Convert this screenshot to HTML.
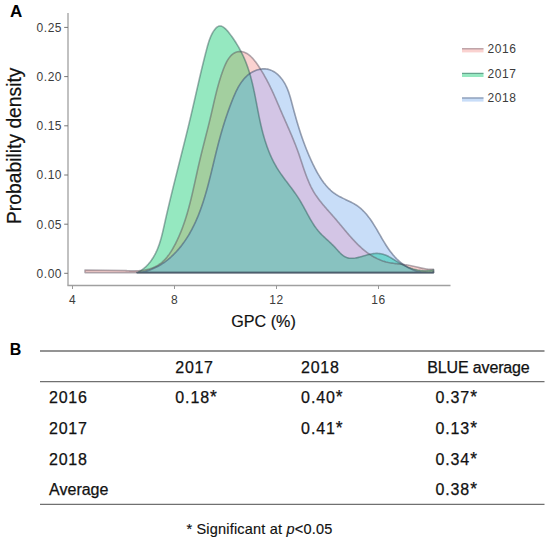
<!DOCTYPE html>
<html><head><meta charset="utf-8"><style>
html,body{margin:0;padding:0;background:#fff;width:550px;height:541px;overflow:hidden}
svg{position:absolute;left:0;top:0}
text{font-family:"Liberation Sans",sans-serif}
.tick{font-size:12px;fill:#3c3c3c;letter-spacing:0.55px}
.lab{font-size:17px;fill:#111;stroke:#111;stroke-width:0.2px}
.bold{font-size:16px;font-weight:bold;fill:#000}
.tb{font-size:16px;fill:#111;stroke:#111;stroke-width:0.25px}
.fn{font-size:14.5px;fill:#111;letter-spacing:0.2px;stroke:#111;stroke-width:0.15px}
.num{letter-spacing:0.9px}
.ast{font-size:17.5px}
.yr{letter-spacing:0.7px}
</style></head><body>
<svg width="550" height="541" viewBox="0 0 550 541">
<text x="10" y="17.2" class="bold" style="font-size:17px">A</text>
<defs><path id="pp" d="M85.00,272.60 L85.00,270.00 L125.00,270.50 L126.20,270.61 L127.39,270.71 L128.59,270.78 L129.79,270.84 L131.00,270.88 L132.20,270.91 L133.40,270.91 L134.60,270.90 L135.80,270.87 L137.00,270.81 L138.20,270.74 L139.40,270.65 L140.60,270.53 L141.79,270.40 L142.98,270.23 L144.17,270.05 L145.35,269.84 L146.53,269.60 L147.70,269.33 L148.87,269.03 L150.02,268.70 L151.17,268.33 L152.30,267.93 L153.42,267.50 L154.52,267.02 L155.61,266.50 L156.67,265.94 L157.71,265.34 L158.73,264.70 L159.72,264.02 L160.68,263.30 L161.62,262.55 L162.53,261.77 L163.42,260.96 L164.28,260.12 L165.11,259.25 L165.92,258.36 L166.70,257.45 L167.47,256.52 L168.20,255.57 L168.92,254.61 L169.62,253.63 L170.29,252.63 L170.95,251.63 L171.59,250.61 L172.21,249.58 L172.82,248.55 L173.42,247.50 L174.00,246.45 L174.57,245.39 L175.12,244.33 L175.67,243.26 L176.21,242.18 L176.74,241.10 L177.26,240.02 L177.77,238.93 L178.27,237.84 L178.77,236.74 L179.25,235.64 L179.73,234.54 L180.19,233.43 L180.65,232.32 L181.10,231.21 L181.54,230.09 L181.98,228.97 L182.40,227.85 L182.82,226.72 L183.23,225.59 L183.64,224.46 L184.03,223.32 L184.42,222.19 L184.80,221.05 L185.18,219.90 L185.55,218.76 L185.91,217.62 L186.27,216.47 L186.62,215.32 L186.97,214.17 L187.31,213.01 L187.64,211.86 L187.97,210.70 L188.29,209.55 L188.61,208.39 L188.93,207.23 L189.24,206.07 L189.54,204.90 L189.84,203.74 L190.14,202.58 L190.43,201.41 L190.72,200.24 L191.01,199.08 L191.29,197.91 L191.57,196.74 L191.85,195.57 L192.12,194.40 L192.40,193.23 L192.67,192.06 L192.93,190.89 L193.20,189.71 L193.46,188.54 L193.73,187.37 L193.99,186.20 L194.25,185.02 L194.51,183.85 L194.77,182.68 L195.02,181.50 L195.28,180.33 L195.54,179.15 L195.79,177.98 L196.05,176.81 L196.31,175.63 L196.57,174.46 L196.83,173.28 L197.08,172.11 L197.34,170.94 L197.61,169.76 L197.87,168.59 L198.13,167.42 L198.40,166.25 L198.67,165.08 L198.94,163.90 L199.21,162.73 L199.48,161.56 L199.76,160.39 L200.04,159.22 L200.32,158.06 L200.60,156.89 L200.88,155.72 L201.17,154.55 L201.46,153.38 L201.75,152.22 L202.03,151.05 L202.32,149.89 L202.62,148.72 L202.91,147.55 L203.20,146.39 L203.50,145.22 L203.79,144.06 L204.09,142.89 L204.38,141.73 L204.68,140.56 L204.97,139.40 L205.27,138.23 L205.57,137.07 L205.86,135.90 L206.16,134.74 L206.46,133.57 L206.75,132.41 L207.05,131.24 L207.34,130.08 L207.63,128.91 L207.93,127.75 L208.22,126.58 L208.51,125.42 L208.80,124.25 L209.09,123.08 L209.37,121.91 L209.66,120.75 L209.94,119.58 L210.22,118.41 L210.50,117.24 L210.78,116.07 L211.06,114.90 L211.33,113.73 L211.60,112.56 L211.87,111.39 L212.14,110.22 L212.41,109.05 L212.67,107.88 L212.94,106.70 L213.21,105.53 L213.47,104.36 L213.74,103.19 L214.01,102.02 L214.28,100.85 L214.55,99.68 L214.83,98.51 L215.10,97.34 L215.38,96.17 L215.67,95.00 L215.95,93.83 L216.25,92.67 L216.54,91.50 L216.84,90.34 L217.14,89.17 L217.45,88.01 L217.77,86.85 L218.09,85.69 L218.41,84.54 L218.74,83.38 L219.08,82.23 L219.42,81.08 L219.77,79.93 L220.13,78.78 L220.49,77.63 L220.86,76.49 L221.23,75.35 L221.62,74.21 L222.01,73.07 L222.40,71.94 L222.81,70.80 L223.22,69.68 L223.65,68.55 L224.09,67.43 L224.54,66.32 L225.02,65.22 L225.51,64.12 L226.03,63.04 L226.58,61.97 L227.15,60.91 L227.76,59.88 L228.41,58.86 L229.10,57.88 L229.83,56.93 L230.62,56.02 L231.46,55.16 L232.36,54.37 L233.33,53.65 L234.35,53.02 L235.43,52.50 L236.56,52.09 L237.72,51.79 L238.91,51.60 L240.11,51.53 L241.31,51.58 L242.50,51.76 L243.67,52.05 L244.80,52.45 L245.89,52.95 L246.94,53.53 L247.95,54.18 L248.92,54.89 L249.85,55.65 L250.75,56.45 L251.61,57.29 L252.45,58.15 L253.25,59.04 L254.04,59.96 L254.80,60.89 L255.53,61.84 L256.25,62.80 L256.96,63.77 L257.64,64.76 L258.32,65.76 L258.98,66.76 L259.63,67.77 L260.27,68.78 L260.91,69.81 L261.53,70.83 L262.16,71.86 L262.77,72.89 L263.38,73.93 L263.98,74.97 L264.57,76.02 L265.16,77.07 L265.74,78.12 L266.31,79.17 L266.88,80.23 L267.44,81.30 L267.99,82.36 L268.54,83.43 L269.08,84.51 L269.62,85.58 L270.15,86.66 L270.68,87.74 L271.20,88.82 L271.71,89.91 L272.22,91.00 L272.72,92.09 L273.22,93.18 L273.72,94.28 L274.21,95.37 L274.70,96.47 L275.19,97.57 L275.67,98.67 L276.15,99.77 L276.63,100.88 L277.11,101.98 L277.58,103.08 L278.05,104.19 L278.53,105.29 L279.00,106.40 L279.47,107.50 L279.94,108.61 L280.42,109.71 L280.89,110.82 L281.37,111.92 L281.84,113.02 L282.32,114.13 L282.80,115.23 L283.28,116.33 L283.77,117.43 L284.25,118.53 L284.73,119.63 L285.22,120.73 L285.70,121.83 L286.19,122.93 L286.67,124.03 L287.16,125.13 L287.64,126.23 L288.12,127.33 L288.60,128.43 L289.08,129.54 L289.56,130.64 L290.04,131.74 L290.51,132.85 L290.98,133.95 L291.45,135.06 L291.92,136.17 L292.38,137.27 L292.84,138.38 L293.30,139.49 L293.76,140.61 L294.21,141.72 L294.65,142.84 L295.10,143.95 L295.54,145.07 L295.97,146.19 L296.40,147.32 L296.82,148.44 L297.24,149.57 L297.66,150.70 L298.07,151.83 L298.47,152.96 L298.87,154.09 L299.26,155.23 L299.65,156.37 L300.03,157.50 L300.41,158.64 L300.79,159.78 L301.17,160.92 L301.55,162.07 L301.93,163.21 L302.31,164.35 L302.68,165.49 L303.06,166.63 L303.45,167.77 L303.83,168.91 L304.22,170.04 L304.62,171.18 L305.02,172.31 L305.42,173.44 L305.83,174.57 L306.25,175.70 L306.68,176.82 L307.11,177.94 L307.55,179.06 L308.01,180.17 L308.47,181.28 L308.95,182.39 L309.43,183.49 L309.93,184.58 L310.45,185.67 L310.97,186.75 L311.52,187.82 L312.07,188.88 L312.65,189.94 L313.23,190.99 L313.84,192.03 L314.46,193.05 L315.10,194.07 L315.76,195.08 L316.43,196.07 L317.12,197.06 L317.82,198.04 L318.53,199.00 L319.26,199.96 L319.99,200.91 L320.74,201.86 L321.49,202.79 L322.25,203.72 L323.02,204.65 L323.79,205.57 L324.57,206.48 L325.36,207.39 L326.15,208.30 L326.94,209.20 L327.73,210.11 L328.53,211.01 L329.33,211.91 L330.12,212.80 L330.92,213.70 L331.72,214.60 L332.51,215.51 L333.30,216.41 L334.09,217.32 L334.88,218.22 L335.66,219.14 L336.44,220.05 L337.22,220.97 L337.99,221.89 L338.76,222.81 L339.53,223.73 L340.30,224.66 L341.07,225.58 L341.84,226.51 L342.61,227.43 L343.37,228.35 L344.14,229.28 L344.91,230.20 L345.69,231.12 L346.46,232.04 L347.24,232.96 L348.02,233.87 L348.80,234.78 L349.59,235.69 L350.39,236.59 L351.18,237.49 L351.99,238.38 L352.79,239.27 L353.61,240.16 L354.43,241.04 L355.26,241.91 L356.09,242.77 L356.94,243.63 L357.79,244.48 L358.65,245.31 L359.52,246.14 L360.40,246.96 L361.28,247.77 L362.18,248.57 L363.09,249.36 L364.01,250.13 L364.95,250.89 L365.89,251.63 L366.85,252.36 L367.81,253.07 L368.79,253.77 L369.79,254.44 L370.79,255.10 L371.81,255.74 L372.84,256.36 L373.88,256.96 L374.94,257.54 L376.00,258.09 L377.08,258.62 L378.17,259.12 L379.28,259.60 L380.39,260.06 L381.51,260.49 L382.64,260.89 L383.79,261.26 L384.94,261.61 L386.09,261.93 L387.26,262.22 L388.43,262.49 L389.61,262.72 L390.79,262.94 L391.98,263.13 L393.17,263.30 L394.36,263.46 L395.55,263.61 L396.75,263.75 L397.94,263.88 L399.14,264.01 L400.33,264.14 L401.53,264.27 L402.72,264.41 L403.91,264.55 L405.11,264.71 L406.30,264.88 L407.48,265.07 L408.67,265.28 L409.85,265.50 L411.02,265.74 L412.20,265.99 L413.37,266.25 L414.54,266.52 L415.71,266.80 L416.88,267.07 L418.06,267.34 L419.23,267.61 L420.40,267.87 L421.58,268.12 L422.75,268.35 L423.94,268.57 L425.12,268.77 L426.31,268.95 L427.50,269.10 L428.70,269.22 L429.90,269.32 L431.10,269.38 L432.30,269.41 L433.50,269.40 L433.5,272.6 L85.0,272.6 Z"/><path id="pg" d="M137.00,272.60 L138.10,272.12 L139.17,271.58 L140.22,270.99 L141.24,270.36 L142.23,269.69 L143.20,268.97 L144.14,268.22 L145.05,267.44 L145.93,266.62 L146.78,265.78 L147.61,264.91 L148.41,264.02 L149.19,263.10 L149.94,262.17 L150.67,261.21 L151.37,260.24 L152.05,259.25 L152.71,258.25 L153.35,257.23 L153.96,256.19 L154.55,255.15 L155.11,254.09 L155.66,253.02 L156.18,251.94 L156.69,250.85 L157.17,249.75 L157.64,248.64 L158.08,247.53 L158.51,246.41 L158.92,245.28 L159.31,244.14 L159.69,243.00 L160.06,241.86 L160.41,240.71 L160.74,239.56 L161.07,238.40 L161.39,237.24 L161.69,236.08 L161.99,234.92 L162.28,233.75 L162.56,232.59 L162.84,231.42 L163.11,230.25 L163.37,229.08 L163.64,227.91 L163.90,226.74 L164.16,225.56 L164.42,224.39 L164.68,223.22 L164.94,222.05 L165.20,220.88 L165.47,219.70 L165.73,218.53 L166.00,217.36 L166.27,216.19 L166.53,215.02 L166.80,213.85 L167.07,212.68 L167.35,211.51 L167.62,210.34 L167.89,209.17 L168.17,208.00 L168.44,206.84 L168.72,205.67 L169.00,204.50 L169.27,203.33 L169.55,202.16 L169.83,201.00 L170.11,199.83 L170.39,198.66 L170.68,197.49 L170.96,196.33 L171.24,195.16 L171.53,193.99 L171.81,192.83 L172.10,191.66 L172.38,190.49 L172.67,189.33 L172.96,188.16 L173.24,187.00 L173.53,185.83 L173.82,184.67 L174.11,183.50 L174.40,182.33 L174.69,181.17 L174.98,180.00 L175.27,178.84 L175.56,177.67 L175.85,176.51 L176.14,175.34 L176.44,174.18 L176.73,173.02 L177.02,171.85 L177.31,170.69 L177.61,169.52 L177.90,168.36 L178.19,167.19 L178.49,166.03 L178.78,164.86 L179.07,163.70 L179.37,162.54 L179.66,161.37 L179.95,160.21 L180.25,159.04 L180.54,157.88 L180.83,156.71 L181.13,155.55 L181.42,154.39 L181.71,153.22 L182.01,152.06 L182.30,150.89 L182.59,149.73 L182.88,148.56 L183.18,147.40 L183.47,146.23 L183.76,145.07 L184.05,143.90 L184.34,142.74 L184.63,141.57 L184.92,140.41 L185.21,139.24 L185.50,138.08 L185.79,136.91 L186.08,135.75 L186.37,134.58 L186.65,133.42 L186.94,132.25 L187.23,131.08 L187.51,129.92 L187.80,128.75 L188.08,127.58 L188.36,126.42 L188.65,125.25 L188.93,124.08 L189.21,122.92 L189.49,121.75 L189.77,120.58 L190.05,119.41 L190.33,118.25 L190.60,117.08 L190.88,115.91 L191.16,114.74 L191.43,113.57 L191.70,112.40 L191.98,111.23 L192.25,110.06 L192.52,108.89 L192.79,107.72 L193.06,106.55 L193.33,105.38 L193.59,104.21 L193.86,103.04 L194.13,101.87 L194.40,100.70 L194.66,99.53 L194.93,98.36 L195.20,97.19 L195.46,96.02 L195.73,94.85 L195.99,93.68 L196.26,92.50 L196.53,91.33 L196.79,90.16 L197.06,88.99 L197.33,87.82 L197.59,86.65 L197.86,85.48 L198.13,84.31 L198.40,83.14 L198.67,81.97 L198.94,80.80 L199.21,79.63 L199.48,78.46 L199.75,77.29 L200.03,76.12 L200.30,74.95 L200.57,73.78 L200.85,72.62 L201.13,71.45 L201.40,70.28 L201.68,69.11 L201.96,67.94 L202.24,66.78 L202.53,65.61 L202.81,64.44 L203.10,63.28 L203.38,62.11 L203.67,60.94 L203.96,59.78 L204.25,58.61 L204.54,57.45 L204.84,56.29 L205.13,55.12 L205.43,53.96 L205.73,52.80 L206.03,51.63 L206.33,50.47 L206.64,49.31 L206.94,48.15 L207.26,46.99 L207.57,45.83 L207.90,44.68 L208.24,43.53 L208.60,42.38 L208.97,41.24 L209.36,40.10 L209.77,38.97 L210.20,37.85 L210.66,36.74 L211.14,35.64 L211.66,34.56 L212.21,33.49 L212.79,32.44 L213.41,31.42 L214.08,30.41 L214.79,29.45 L215.56,28.53 L216.40,27.67 L217.33,26.91 L218.38,26.33 L219.53,26.01 L220.73,26.03 L221.88,26.35 L222.96,26.88 L223.96,27.55 L224.89,28.30 L225.77,29.12 L226.61,29.98 L227.41,30.87 L228.18,31.79 L228.94,32.72 L229.67,33.67 L230.40,34.63 L231.11,35.60 L231.82,36.57 L232.51,37.55 L233.20,38.53 L233.87,39.53 L234.54,40.52 L235.20,41.53 L235.84,42.54 L236.48,43.56 L237.11,44.58 L237.72,45.61 L238.33,46.65 L238.92,47.69 L239.51,48.74 L240.08,49.80 L240.65,50.86 L241.20,51.92 L241.74,53.00 L242.27,54.07 L242.79,55.15 L243.30,56.24 L243.79,57.34 L244.28,58.43 L244.75,59.54 L245.22,60.64 L245.67,61.76 L246.11,62.87 L246.54,64.00 L246.96,65.12 L247.37,66.25 L247.76,67.38 L248.15,68.52 L248.53,69.66 L248.90,70.80 L249.26,71.95 L249.61,73.10 L249.95,74.25 L250.28,75.40 L250.61,76.56 L250.92,77.71 L251.23,78.88 L251.54,80.04 L251.83,81.20 L252.12,82.37 L252.40,83.53 L252.68,84.70 L252.95,85.87 L253.21,87.04 L253.47,88.21 L253.73,89.39 L253.98,90.56 L254.23,91.74 L254.47,92.91 L254.71,94.09 L254.95,95.27 L255.18,96.44 L255.41,97.62 L255.64,98.80 L255.87,99.98 L256.10,101.16 L256.32,102.34 L256.55,103.52 L256.77,104.70 L257.00,105.88 L257.22,107.06 L257.45,108.24 L257.67,109.42 L257.90,110.59 L258.13,111.77 L258.35,112.95 L258.59,114.13 L258.82,115.31 L259.06,116.49 L259.30,117.66 L259.54,118.84 L259.79,120.01 L260.04,121.19 L260.29,122.36 L260.55,123.53 L260.82,124.70 L261.09,125.87 L261.36,127.04 L261.64,128.21 L261.93,129.38 L262.22,130.54 L262.52,131.70 L262.82,132.87 L263.14,134.02 L263.45,135.18 L263.78,136.34 L264.11,137.49 L264.45,138.64 L264.80,139.79 L265.16,140.94 L265.52,142.08 L265.89,143.22 L266.27,144.36 L266.66,145.50 L267.06,146.63 L267.47,147.76 L267.89,148.89 L268.31,150.01 L268.75,151.13 L269.20,152.24 L269.65,153.35 L270.12,154.46 L270.60,155.56 L271.09,156.66 L271.59,157.75 L272.10,158.83 L272.63,159.91 L273.16,160.99 L273.71,162.06 L274.27,163.12 L274.84,164.18 L275.42,165.23 L276.02,166.27 L276.63,167.30 L277.25,168.33 L277.89,169.35 L278.53,170.36 L279.19,171.36 L279.86,172.36 L280.54,173.35 L281.22,174.34 L281.92,175.32 L282.62,176.29 L283.32,177.27 L284.03,178.23 L284.75,179.20 L285.47,180.16 L286.19,181.12 L286.91,182.08 L287.64,183.03 L288.36,183.99 L289.09,184.95 L289.81,185.91 L290.53,186.86 L291.25,187.83 L291.97,188.79 L292.69,189.75 L293.39,190.72 L294.10,191.70 L294.79,192.67 L295.49,193.66 L296.17,194.64 L296.84,195.64 L297.51,196.64 L298.16,197.64 L298.81,198.66 L299.44,199.68 L300.06,200.70 L300.68,201.74 L301.28,202.77 L301.88,203.81 L302.47,204.86 L303.05,205.91 L303.63,206.96 L304.21,208.01 L304.78,209.07 L305.36,210.12 L305.93,211.18 L306.50,212.24 L307.07,213.29 L307.64,214.35 L308.22,215.40 L308.80,216.45 L309.39,217.50 L309.98,218.54 L310.58,219.58 L311.19,220.62 L311.81,221.65 L312.43,222.67 L313.07,223.69 L313.73,224.70 L314.39,225.70 L315.07,226.68 L315.77,227.66 L316.48,228.63 L317.21,229.58 L317.96,230.52 L318.73,231.44 L319.52,232.35 L320.33,233.23 L321.16,234.10 L322.00,234.96 L322.86,235.80 L323.73,236.63 L324.60,237.45 L325.48,238.26 L326.37,239.07 L327.26,239.88 L328.15,240.69 L329.03,241.50 L329.91,242.32 L330.79,243.14 L331.65,243.97 L332.51,244.81 L333.36,245.66 L334.19,246.52 L335.01,247.40 L335.82,248.29 L336.63,249.18 L337.43,250.07 L338.24,250.96 L339.06,251.83 L339.90,252.70 L340.76,253.54 L341.64,254.35 L342.56,255.12 L343.52,255.84 L344.53,256.49 L345.59,257.06 L346.69,257.52 L347.84,257.87 L349.02,258.11 L350.21,258.26 L351.41,258.31 L352.61,258.29 L353.81,258.20 L355.00,258.05 L356.18,257.85 L357.36,257.62 L358.53,257.35 L359.69,257.06 L360.85,256.75 L362.01,256.43 L363.16,256.09 L364.32,255.76 L365.47,255.43 L366.63,255.10 L367.79,254.78 L368.95,254.49 L370.12,254.21 L371.29,253.97 L372.48,253.76 L373.66,253.59 L374.86,253.48 L376.06,253.42 L377.26,253.41 L378.46,253.47 L379.65,253.59 L380.84,253.77 L382.02,254.00 L383.18,254.30 L384.33,254.66 L385.45,255.07 L386.56,255.53 L387.65,256.04 L388.72,256.58 L389.78,257.15 L390.83,257.74 L391.86,258.35 L392.89,258.97 L393.91,259.60 L394.93,260.23 L395.96,260.86 L396.98,261.48 L398.01,262.10 L399.05,262.71 L400.09,263.30 L401.14,263.88 L402.21,264.44 L403.27,264.98 L404.35,265.51 L405.44,266.02 L406.54,266.51 L407.64,266.98 L408.76,267.43 L409.88,267.85 L411.01,268.25 L412.15,268.62 L413.30,268.97 L414.46,269.28 L415.63,269.56 L416.80,269.82 L417.98,270.04 L419.17,270.23 L420.36,270.38 L421.55,270.50 L422.75,270.59 L423.95,270.64 L425.15,270.65 L426.35,270.63 L427.55,270.58 L428.75,270.49 L429.94,270.37 L431.13,270.21 L432.32,270.02 L433.50,269.80 L433.5,272.6 L137.0,272.6 Z"/><path id="pb" d="M137.00,272.60 L138.19,272.49 L139.39,272.36 L140.58,272.19 L141.76,272.00 L142.94,271.78 L144.12,271.53 L145.29,271.26 L146.45,270.95 L147.61,270.62 L148.75,270.27 L149.89,269.88 L151.02,269.48 L152.14,269.04 L153.25,268.58 L154.35,268.10 L155.44,267.59 L156.52,267.06 L157.58,266.51 L158.64,265.94 L159.68,265.34 L160.71,264.73 L161.73,264.09 L162.74,263.43 L163.73,262.76 L164.72,262.07 L165.68,261.36 L166.64,260.63 L167.59,259.89 L168.52,259.13 L169.44,258.36 L170.34,257.57 L171.24,256.77 L172.12,255.95 L172.99,255.12 L173.84,254.28 L174.69,253.42 L175.52,252.56 L176.34,251.68 L177.15,250.79 L177.94,249.89 L178.73,248.98 L179.50,248.06 L180.26,247.13 L181.01,246.19 L181.75,245.25 L182.47,244.29 L183.19,243.32 L183.89,242.35 L184.58,241.37 L185.26,240.38 L185.93,239.38 L186.59,238.38 L187.24,237.36 L187.87,236.34 L188.50,235.32 L189.11,234.29 L189.72,233.25 L190.31,232.20 L190.89,231.15 L191.47,230.10 L192.03,229.04 L192.58,227.97 L193.12,226.90 L193.66,225.82 L194.18,224.74 L194.70,223.66 L195.21,222.57 L195.70,221.48 L196.19,220.38 L196.67,219.28 L197.15,218.17 L197.61,217.07 L198.07,215.96 L198.52,214.84 L198.96,213.72 L199.39,212.60 L199.82,211.48 L200.24,210.36 L200.65,209.23 L201.06,208.10 L201.46,206.96 L201.85,205.83 L202.24,204.69 L202.62,203.55 L203.00,202.41 L203.37,201.27 L203.73,200.13 L204.09,198.98 L204.45,197.83 L204.80,196.68 L205.14,195.53 L205.48,194.38 L205.82,193.23 L206.15,192.07 L206.48,190.92 L206.80,189.76 L207.12,188.60 L207.44,187.44 L207.75,186.29 L208.06,185.12 L208.37,183.96 L208.67,182.80 L208.97,181.64 L209.27,180.48 L209.57,179.31 L209.86,178.15 L210.15,176.98 L210.44,175.82 L210.73,174.65 L211.02,173.48 L211.31,172.32 L211.59,171.15 L211.87,169.98 L212.15,168.81 L212.44,167.65 L212.72,166.48 L213.00,165.31 L213.28,164.14 L213.56,162.98 L213.84,161.81 L214.12,160.64 L214.40,159.47 L214.68,158.30 L214.96,157.14 L215.25,155.97 L215.53,154.80 L215.82,153.64 L216.10,152.47 L216.39,151.30 L216.68,150.14 L216.98,148.97 L217.27,147.81 L217.57,146.64 L217.86,145.48 L218.17,144.32 L218.47,143.16 L218.77,141.99 L219.08,140.83 L219.39,139.67 L219.71,138.51 L220.02,137.35 L220.34,136.20 L220.67,135.04 L220.99,133.88 L221.32,132.73 L221.65,131.57 L221.99,130.42 L222.32,129.27 L222.67,128.12 L223.01,126.97 L223.36,125.82 L223.71,124.67 L224.07,123.52 L224.43,122.37 L224.79,121.23 L225.16,120.09 L225.53,118.94 L225.91,117.80 L226.29,116.66 L226.67,115.53 L227.06,114.39 L227.45,113.25 L227.85,112.12 L228.25,110.99 L228.65,109.86 L229.06,108.73 L229.48,107.60 L229.89,106.47 L230.32,105.35 L230.74,104.23 L231.17,103.10 L231.61,101.98 L232.05,100.87 L232.49,99.75 L232.94,98.64 L233.39,97.52 L233.85,96.41 L234.33,95.31 L234.81,94.21 L235.30,93.11 L235.80,92.02 L236.32,90.94 L236.85,89.86 L237.40,88.79 L237.96,87.73 L238.55,86.68 L239.15,85.64 L239.78,84.62 L240.42,83.61 L241.09,82.61 L241.79,81.63 L242.51,80.67 L243.26,79.73 L244.04,78.82 L244.84,77.93 L245.68,77.06 L246.55,76.23 L247.44,75.43 L248.37,74.67 L249.33,73.95 L250.32,73.26 L251.33,72.62 L252.37,72.02 L253.44,71.47 L254.53,70.96 L255.64,70.50 L256.77,70.09 L257.91,69.73 L259.07,69.43 L260.25,69.18 L261.44,68.99 L262.63,68.87 L263.83,68.82 L265.03,68.85 L266.23,68.95 L267.41,69.14 L268.59,69.40 L269.74,69.74 L270.86,70.16 L271.96,70.64 L273.03,71.19 L274.07,71.79 L275.08,72.45 L276.05,73.16 L276.99,73.90 L277.89,74.69 L278.76,75.52 L279.60,76.38 L280.41,77.27 L281.18,78.19 L281.92,79.13 L282.64,80.10 L283.31,81.09 L283.96,82.10 L284.58,83.13 L285.17,84.18 L285.72,85.25 L286.25,86.32 L286.76,87.41 L287.23,88.52 L287.69,89.63 L288.12,90.75 L288.54,91.88 L288.93,93.01 L289.31,94.15 L289.67,95.30 L290.03,96.44 L290.37,97.60 L290.69,98.75 L291.02,99.91 L291.33,101.07 L291.64,102.23 L291.95,103.39 L292.26,104.55 L292.56,105.71 L292.87,106.87 L293.18,108.03 L293.49,109.19 L293.81,110.35 L294.12,111.51 L294.44,112.67 L294.76,113.83 L295.08,114.99 L295.40,116.14 L295.73,117.30 L296.06,118.45 L296.39,119.61 L296.72,120.76 L297.06,121.91 L297.40,123.07 L297.75,124.22 L298.09,125.37 L298.45,126.52 L298.80,127.66 L299.16,128.81 L299.52,129.95 L299.89,131.10 L300.26,132.24 L300.64,133.38 L301.02,134.52 L301.40,135.66 L301.79,136.79 L302.18,137.93 L302.58,139.06 L302.98,140.19 L303.39,141.32 L303.80,142.45 L304.22,143.58 L304.64,144.70 L305.07,145.83 L305.50,146.95 L305.94,148.07 L306.38,149.18 L306.82,150.30 L307.28,151.41 L307.74,152.52 L308.20,153.63 L308.67,154.74 L309.14,155.84 L309.62,156.94 L310.11,158.04 L310.60,159.14 L311.09,160.23 L311.60,161.32 L312.11,162.41 L312.62,163.49 L313.14,164.58 L313.67,165.66 L314.20,166.73 L314.74,167.81 L315.29,168.87 L315.84,169.94 L316.41,171.00 L316.99,172.05 L317.57,173.10 L318.17,174.14 L318.78,175.18 L319.40,176.21 L320.03,177.23 L320.68,178.24 L321.34,179.24 L322.01,180.24 L322.71,181.22 L323.42,182.19 L324.14,183.15 L324.88,184.09 L325.64,185.02 L326.42,185.93 L327.22,186.83 L328.04,187.71 L328.88,188.57 L329.74,189.41 L330.61,190.23 L331.51,191.03 L332.43,191.80 L333.37,192.55 L334.34,193.27 L335.32,193.96 L336.32,194.62 L337.34,195.26 L338.37,195.87 L339.42,196.46 L340.48,197.02 L341.55,197.57 L342.62,198.11 L343.70,198.63 L344.78,199.15 L345.87,199.67 L346.96,200.18 L348.04,200.70 L349.12,201.22 L350.20,201.75 L351.27,202.29 L352.34,202.84 L353.39,203.42 L354.44,204.01 L355.47,204.63 L356.48,205.28 L357.47,205.96 L358.44,206.67 L359.39,207.40 L360.32,208.16 L361.23,208.95 L362.12,209.75 L362.98,210.58 L363.83,211.44 L364.66,212.31 L365.47,213.19 L366.26,214.10 L367.03,215.02 L367.79,215.95 L368.53,216.90 L369.25,217.86 L369.96,218.83 L370.65,219.81 L371.34,220.80 L372.01,221.79 L372.67,222.80 L373.32,223.81 L373.96,224.82 L374.59,225.84 L375.21,226.87 L375.83,227.90 L376.45,228.93 L377.05,229.97 L377.66,231.01 L378.26,232.04 L378.86,233.08 L379.46,234.13 L380.06,235.17 L380.66,236.21 L381.26,237.25 L381.86,238.29 L382.47,239.32 L383.08,240.36 L383.70,241.39 L384.32,242.42 L384.95,243.44 L385.59,244.46 L386.23,245.47 L386.88,246.48 L387.55,247.48 L388.22,248.47 L388.91,249.46 L389.61,250.43 L390.33,251.40 L391.05,252.36 L391.79,253.30 L392.55,254.23 L393.32,255.15 L394.11,256.06 L394.91,256.96 L395.73,257.83 L396.57,258.70 L397.42,259.54 L398.29,260.37 L399.17,261.18 L400.08,261.98 L401.00,262.75 L401.94,263.50 L402.89,264.22 L403.87,264.92 L404.86,265.60 L405.87,266.25 L406.90,266.87 L407.94,267.47 L409.00,268.03 L410.08,268.57 L411.17,269.07 L412.27,269.54 L413.39,269.97 L414.52,270.37 L415.67,270.74 L416.82,271.07 L417.99,271.37 L419.16,271.62 L420.34,271.85 L421.53,272.03 L422.72,272.18 L423.92,272.30 L425.11,272.37 L426.31,272.42 L427.52,272.43 L428.72,272.41 L429.92,272.35 L431.11,272.26 L432.31,272.15 L433.50,272.00 L433.5,272.6 L137.0,272.6 Z"/><clipPath id="cp"><use href="#pp"/></clipPath><clipPath id="cg"><use href="#pg"/></clipPath><clipPath id="cb"><use href="#pb"/></clipPath></defs>
<use href="#pp" fill="rgb(250,210,208)"/>
<use href="#pg" fill="rgb(149,232,192)"/>
<use href="#pb" fill="rgb(200,221,248)"/>
<g clip-path="url(#cp)"><use href="#pg" fill="rgb(163,207,159)"/></g>
<g clip-path="url(#cp)"><use href="#pb" fill="rgb(211,197,229)"/></g>
<g clip-path="url(#cg)"><use href="#pb" fill="rgb(114,212,208)"/></g>
<g clip-path="url(#cp)"><g clip-path="url(#cg)"><use href="#pb" fill="rgb(136,194,192)"/></g></g>
<use href="#pp" fill="none" stroke="rgba(85,70,85,0.45)" stroke-width="1.6" stroke-linejoin="round"/>
<use href="#pg" fill="none" stroke="rgba(50,85,85,0.47)" stroke-width="1.6" stroke-linejoin="round"/>
<use href="#pb" fill="none" stroke="rgba(60,72,100,0.5)" stroke-width="1.6" stroke-linejoin="round"/>

<line x1="68" y1="13" x2="68" y2="285.5" stroke="#a0a0a0" stroke-width="1.3"/>
<line x1="67.4" y1="285.5" x2="450.5" y2="285.5" stroke="#a0a0a0" stroke-width="1.3"/>
<line x1="64.2" y1="27.4" x2="68" y2="27.4" stroke="#777" stroke-width="1"/>
<text x="62.1" y="31.7" text-anchor="end" class="tick">0.25</text>
<line x1="64.2" y1="76.6" x2="68" y2="76.6" stroke="#777" stroke-width="1"/>
<text x="62.1" y="80.9" text-anchor="end" class="tick">0.20</text>
<line x1="64.2" y1="125.8" x2="68" y2="125.8" stroke="#777" stroke-width="1"/>
<text x="62.1" y="130.1" text-anchor="end" class="tick">0.15</text>
<line x1="64.2" y1="175.0" x2="68" y2="175.0" stroke="#777" stroke-width="1"/>
<text x="62.1" y="179.3" text-anchor="end" class="tick">0.10</text>
<line x1="64.2" y1="224.2" x2="68" y2="224.2" stroke="#777" stroke-width="1"/>
<text x="62.1" y="228.5" text-anchor="end" class="tick">0.05</text>
<line x1="64.2" y1="273.3" x2="68" y2="273.3" stroke="#777" stroke-width="1"/>
<text x="62.1" y="277.6" text-anchor="end" class="tick">0.00</text>
<line x1="72.5" y1="285.5" x2="72.5" y2="289" stroke="#999" stroke-width="1"/>
<text x="72.5" y="303.5" text-anchor="middle" class="tick">4</text>
<line x1="174.5" y1="285.5" x2="174.5" y2="289" stroke="#999" stroke-width="1"/>
<text x="174.5" y="303.5" text-anchor="middle" class="tick">8</text>
<line x1="276.5" y1="285.5" x2="276.5" y2="289" stroke="#999" stroke-width="1"/>
<text x="276.5" y="303.5" text-anchor="middle" class="tick">12</text>
<line x1="378.5" y1="285.5" x2="378.5" y2="289" stroke="#999" stroke-width="1"/>
<text x="378.5" y="303.5" text-anchor="middle" class="tick">16</text>

<rect x="462" y="48.2" width="21.5" height="4.2" fill="rgb(250,210,208)"/>
<line x1="462" y1="48.8" x2="483.5" y2="48.8" stroke="rgba(85,70,85,0.45)" stroke-width="1.2"/>
<text x="487.5" y="52.9" class="tick">2016</text>
<rect x="462" y="72.8" width="21.5" height="4.2" fill="rgb(149,232,192)"/>
<line x1="462" y1="73.4" x2="483.5" y2="73.4" stroke="rgba(50,85,85,0.47)" stroke-width="1.2"/>
<text x="487.5" y="77.5" class="tick">2017</text>
<rect x="462" y="97.4" width="21.5" height="4.2" fill="rgb(200,221,248)"/>
<line x1="462" y1="98.0" x2="483.5" y2="98.0" stroke="rgba(60,72,100,0.5)" stroke-width="1.2"/>
<text x="487.5" y="102.1" class="tick">2018</text>

<text x="231.3" y="326.8" class="lab" style="font-size:16.8px" textLength="64.5" lengthAdjust="spacingAndGlyphs">GPC (%)</text>
<text transform="translate(21.0,224) rotate(-90)" class="lab" style="font-size:19.3px" textLength="156.5" lengthAdjust="spacingAndGlyphs">Probability density</text>
<text x="9.7" y="354.7" class="bold">B</text>
<line x1="40" y1="351" x2="544.5" y2="351" stroke="#707070" stroke-width="1.3"/>
<line x1="40" y1="381.7" x2="544.5" y2="381.7" stroke="#707070" stroke-width="1.3"/>
<line x1="40" y1="504.4" x2="544.5" y2="504.4" stroke="#707070" stroke-width="1.3"/>
<text x="175.3" y="372.5" class="tb yr">2017</text>
<text x="301.1" y="372.5" class="tb yr">2018</text>
<text x="427.3" y="372.5" class="tb" letter-spacing="-0.15">BLUE average</text>
<text x="49.1" y="403.3" class="tb yr">2016</text>
<text x="175.3" y="403.3" class="tb num">0.18<tspan class="ast">*</tspan></text>
<text x="301.1" y="403.3" class="tb num">0.40<tspan class="ast">*</tspan></text>
<text x="435.4" y="403.3" class="tb num">0.37<tspan class="ast">*</tspan></text>
<text x="49.1" y="434.2" class="tb yr">2017</text>
<text x="301.1" y="434.2" class="tb num">0.41<tspan class="ast">*</tspan></text>
<text x="435.4" y="434.2" class="tb num">0.13<tspan class="ast">*</tspan></text>
<text x="49.1" y="464.7" class="tb yr">2018</text>
<text x="435.4" y="464.7" class="tb num">0.34<tspan class="ast">*</tspan></text>
<text x="49.1" y="495.2" class="tb">Average</text>
<text x="435.4" y="495.2" class="tb num">0.38<tspan class="ast">*</tspan></text>
<text x="186.4" y="533.8" class="fn">* Significant at <tspan font-style="italic">p</tspan>&lt;0.05</text>
</svg>
</body></html>
